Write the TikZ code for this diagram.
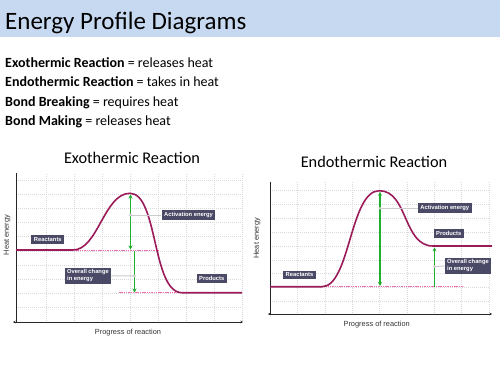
\documentclass[tikz,border=0pt]{standalone}
\usepackage{fontspec}
\setmainfont{Carlito}
\newfontfamily\lab{Liberation Sans}
\usetikzlibrary{arrows.meta}
\definecolor{hdr}{HTML}{C6D9F1}
\definecolor{crv}{HTML}{9B1B5A}
\definecolor{grn}{HTML}{1FAE2E}
\definecolor{boxc}{HTML}{4B4A66}
\definecolor{pnk}{HTML}{F06AB4}
\tikzset{
  x=1pt,y=-1pt,
  gridl/.style={gray!30,line width=0.4pt,dash pattern=on 1pt off 1pt},
  axis/.style={gray!30!black,line width=0.9pt},
  curve/.style={crv,line width=1.6pt},
  level/.style={pnk,line width=0.8pt,dash pattern=on 1.5pt off 0.8pt},
  garrow/.style={grn,line width=1.4pt,-{Stealth[length=4pt,width=4pt]}},
  garrow2/.style={grn,line width=1.4pt,{Stealth[length=4pt,width=4pt]}-{Stealth[length=4pt,width=4pt]}},
  lbl/.style={fill=boxc,text=white,font=\lab\bfseries\fontsize{5.8}{6.6}\selectfont,inner xsep=2.5pt,inner ysep=2.2pt,align=left},
  conn/.style={gray!40,line width=1pt},
  dot/.style={circle,draw=gray!60,fill=white,line width=0.4pt,inner sep=0pt,minimum size=2.2pt},
  axlab/.style={gray!40!black,font=\lab\fontsize{7.4}{8}\selectfont},
  ctitle/.style={font=\fontsize{16.3}{18}\selectfont},
  body/.style={anchor=base west,inner sep=0pt,font=\fontsize{14}{16}\selectfont},
}
\begin{document}
\begin{tikzpicture}
\useasboundingbox (0,0) rectangle (500,375);
\fill[white] (0,0) rectangle (500,375);
\fill[hdr] (0,0) rectangle (500,37);
\node[anchor=base west,inner sep=0pt,font=\fontsize{25}{28}\selectfont] (title) at (5,29) {Energy Profile Diagrams};
\node[body] (t1) at (5,67) {\textbf{Exothermic Reaction} = releases heat};
\node[body] (t2) at (5,86.5) {\textbf{Endothermic Reaction} = takes in heat};
\node[body] (t3) at (5,106) {\textbf{Bond Breaking} = requires heat};
\node[body] (t4) at (5,125.5) {\textbf{Bond Making} = releases heat};

% ---------- Exothermic ----------
\node[ctitle] (exot) at (132,158) {Exothermic Reaction};
\foreach \yy in {180,194,208.2,222.4,236.6,250.8,265,279.2,293.4,307.6}
  \draw[gridl] (18,\yy) -- (242,\yy);
\foreach \xx in {45.7,73.8,101.9,130,158.1,186.2,214.3,242}
  \draw[gridl] (\xx,174) -- (\xx,321);
\coordinate (eo) at (16,322);
\coordinate (etop) at (16,173);
\coordinate (eright) at (243,322);
\draw[axis] (etop) -- (eo);
\draw[axis,{Stealth[length=2.5pt,width=2.5pt]}-{Stealth[length=2.5pt,width=2.5pt]}] (13,322) -- (eright);
\node[axlab,rotate=90] (ey) at (7,235) {Heat energy};
\node[axlab] (ex) at (128,333) {Progress of reaction};
\draw[level] (75,250) -- (158,250);
\draw[level] (119,292.7) -- (182,292.7);
\draw[curve] (16,250) -- (73,250) .. controls (98,250) and (104,193.3) .. (130,193.3)
   .. controls (158,193.3) and (152,292.7) .. (182,292.7) -- (242,292.7);
\coordinate (ea1) at (130.5,194.5);
\coordinate (ea2) at (130.5,249.5);
\draw[garrow2] (ea1) -- (ea2);
\coordinate (eb1) at (134.5,251);
\coordinate (eb2) at (134.5,292.5);
\draw[garrow] (eb1) -- (eb2);
\node[lbl] (eact) at (188.5,215) {Activation energy};
\node[lbl] (ereac) at (47.8,239.3) {Reactants};
\node[lbl] (eover) at (88,275.8) {Overall change\\in energy};
\node[lbl] (eprod) at (211.7,278.3) {Products};
\coordinate (ec1) at (130.5,215);
\coordinate (ec2) at (134.5,276);
\draw[conn] (ec1) -- (eact.west);
\draw[conn] (eover.east) -- (ec2);
\node[dot] at (ec1) {};
\node[dot] at (ec2) {};

% ---------- Endothermic ----------
\node[ctitle] (endt) at (374,161.5) {Endothermic Reaction};
\foreach \yy in {190,204,218,232,246,260,273.5,287,301}
  \draw[gridl] (272,\yy) -- (490,\yy);
\foreach \xx in {297.3,324.7,352,379.3,406.7,434,461.5,489.3}
  \draw[gridl] (\xx,182) -- (\xx,313);
\coordinate (no) at (270,314);
\coordinate (ntop) at (270,181.7);
\coordinate (nright) at (492,314);
\draw[axis] (ntop) -- (no);
\draw[axis,{Stealth[length=2.5pt,width=2.5pt]}-{Stealth[length=2.5pt,width=2.5pt]}] (268,314) -- (nright);
\node[axlab,rotate=90] (ny) at (257,238.3) {Heat energy};
\node[axlab] (nx) at (376.7,325) {Progress of reaction};
\draw[level] (323,286.7) -- (463.3,286.7);
\draw[curve] (270,286.7) -- (322,286.7) .. controls (350,286.7) and (350,190.7) .. (379.3,190.7)
   .. controls (408,190.7) and (403,246) .. (433,246) -- (492,246);
\coordinate (na1) at (380,191.8);
\coordinate (na2) at (380,286);
\draw[garrow2] (na1) -- (na2);
\coordinate (nb1) at (434.5,286.5);
\coordinate (nb2) at (434.5,247.3);
\draw[garrow] (nb1) -- (nb2);
\node[lbl] (nact) at (444.7,208.3) {Activation energy};
\node[lbl] (nprod) at (448.7,233.3) {Products};
\node[lbl] (nover) at (468,265.8) {Overall change\\in energy};
\node[lbl] (nreac) at (299.5,275) {Reactants};
\coordinate (nc1) at (380,208.3);
\coordinate (nc2) at (434.5,266.7);
\draw[conn] (nc1) -- (nact.west);
\draw[conn] (nc2) -- (nover.west);
\node[dot] at (nc1) {};
\node[dot] at (nc2) {};
\end{tikzpicture}
\end{document}
